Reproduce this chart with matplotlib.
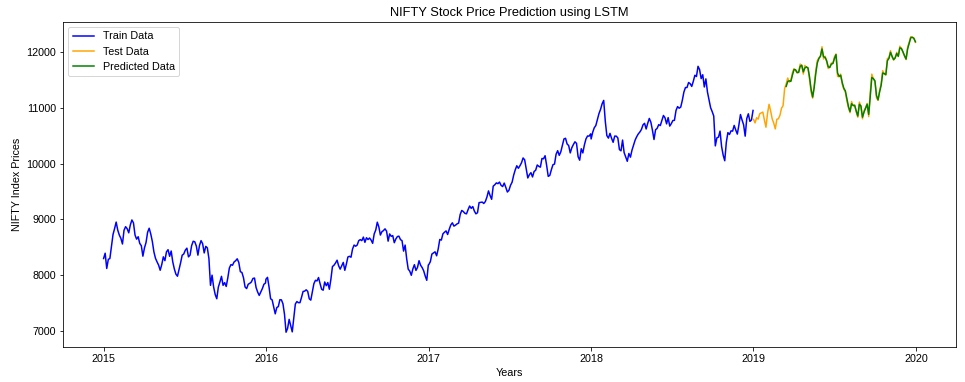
import pandas as pd
import matplotlib.pyplot as plt
import matplotlib.dates as mdates

plt.rcParams["font.family"] = ["Liberation Sans", "DejaVu Sans"]
plt.rcParams["font.size"] = 10.7

# NIFTY closes, two points per week
train_2015 = [8300, 8395, 8122, 8285, 8300, 8513, 8730, 8836, 8952, 8809,
              8720, 8661, 8560, 8805, 8870, 8833, 8760, 8901,
              8990, 8938, 8720, 8647, 8690, 8570, 8530, 8342,
              8490, 8586, 8770, 8842, 8740, 8606, 8420, 8305,
              8240, 8182, 8090, 8191, 8330, 8262, 8420, 8458, 8340, 8434,
              8240, 8114, 8020, 7983, 8100, 8225, 8360, 8381,
              8450, 8485, 8330, 8361, 8530, 8609, 8600, 8522, 8360, 8533,
              8620, 8565, 8400, 8518, 8490, 8300, 7820, 8002,
              7790, 7655, 7580, 7789, 7880, 7981, 7820, 7868,
              7800, 7951, 8130, 8190, 8180, 8238, 8260, 8295, 8230, 8065,
              8050, 7955, 7790, 7762, 7840, 7856, 7880, 7943,
              7950, 7781, 7700, 7640, 7700, 7762, 7840, 7861]
train_2016 = [7930, 7963, 7790, 7580, 7560, 7437, 7310, 7422, 7440, 7563,
              7560, 7489, 7300, 6981, 7050, 7211, 7100, 6987,
              7230, 7485, 7530, 7510, 7510, 7604, 7710, 7716,
              7740, 7713, 7580, 7555, 7700, 7850, 7910, 7899, 7960, 7850,
              7750, 7733, 7880, 7814, 7870, 7750, 7930, 8156,
              8180, 8220, 8270, 8170, 8110, 8170, 8230, 8089,
              8200, 8328, 8340, 8323, 8470, 8541, 8520, 8541, 8620, 8638,
              8620, 8683, 8590, 8672, 8640, 8667, 8630, 8572,
              8740, 8809, 8950, 8867, 8720, 8780, 8800, 8831, 8790, 8611,
              8740, 8697, 8710, 8583, 8650, 8693, 8700, 8638,
              8620, 8433, 8540, 8297, 8110, 8074, 8000, 8114,
              8190, 8087, 8140, 8261, 8180, 8139, 8080, 7986, 7910, 8186]
train_2017 = [8190, 8243, 8380, 8400, 8420, 8349, 8470, 8641,
              8630, 8741, 8770, 8794, 8730, 8821, 8900, 8939,
              8880, 8897, 8920, 8934, 9090, 9160, 9140, 9108, 9100, 9174,
              9240, 9198, 9230, 9150, 9100, 9119, 9300, 9304,
              9310, 9285, 9320, 9400, 9510, 9428, 9360, 9595,
              9620, 9653, 9640, 9668, 9610, 9588, 9650, 9574, 9490, 9521,
              9610, 9665, 9790, 9886, 9960, 9915, 9960, 10014,
              10100, 10066, 9900, 9742, 9800, 9837, 9760, 9857,
              9880, 9974, 9950, 9935, 10090, 10085, 10140, 9964, 9770, 9788,
              9890, 9979, 9990, 10167, 10230, 10146, 10210, 10323,
              10440, 10452, 10350, 10322, 10190, 10283, 10340, 10389,
              10360, 10121, 10060, 10265, 10190, 10333, 10440, 10493, 10490, 10531]
train_2018 = [10440, 10559, 10640, 10681, 10790, 10895, 10970, 11070,
              11130, 10761, 10500, 10455, 10540, 10452, 10380, 10491,
              10490, 10458, 10250, 10227, 10420, 10195, 10120, 10040, 10180, 10114,
              10240, 10332, 10420, 10481, 10530, 10564, 10610, 10692,
              10720, 10618, 10720, 10807, 10740, 10597, 10430, 10605,
              10630, 10696, 10680, 10768, 10860, 10818, 10710, 10822, 10670, 10714,
              10770, 10773, 10950, 11019, 10990, 11010, 11130, 11278,
              11360, 11361, 11450, 11429, 11380, 11471, 11580, 11557,
              11740, 11681, 11520, 11589, 11370, 11515, 11280, 11143, 11000, 10930,
              10850, 10316, 10460, 10472, 10580, 10303, 10150, 10050,
              10380, 10553, 10520, 10585, 10580, 10682, 10600, 10527, 10690, 10877,
              10780, 10693, 10490, 10805, 10890, 10754, 10780, 10950]
test_2019 = [10790, 10727, 10820, 10795, 10890, 10907, 10920, 10780,
             10650, 10894, 11060, 10944, 10800, 10724, 10620, 10792,
             10800, 10864, 10990, 11035, 11340, 11427, 11530, 11456, 11490, 11624,
             11700, 11666, 11620, 11643, 11780, 11752, 11600, 11755,
             11720, 11712, 11500, 11279, 11170, 11407, 11660, 11844, 11890, 11923,
             12090, 11871, 11920, 11823, 11700, 11724, 11800, 11789,
             11910, 11960, 11560, 11552, 11600, 11419, 11330, 11284,
             11120, 10997, 10910, 11110, 11030, 11048, 10920, 10829, 11100, 11023,
             10800, 10947, 11000, 11076, 10840, 11274, 11600, 11512,
             11470, 11175, 11130, 11305, 11430, 11662, 11600, 11584,
             11880, 11891, 12020, 11908, 11850, 11895, 11990, 11914, 12100, 12056,
             11990, 11921, 11860, 12087, 12170, 12272, 12260, 12246,
             12168]
# LSTM output, starts mid-March 2019 after the look-back window
pred_2019 = [11380, 11470, 11480, 11470, 11580,
             11680, 11680, 11630, 11630, 11740, 11760, 11640, 11710,
             11730, 11710, 11550, 11330, 11190, 11360, 11610, 11800, 11880, 11920,
             12050, 11910, 11900, 11840, 11730, 11720, 11780, 11790,
             11880, 11950, 11620, 11560, 11580, 11450, 11350, 11300,
             11160, 11020, 10930, 11070, 11040, 11040, 10940, 10850, 11060, 11030,
             10830, 10920, 10990, 11060, 10880, 11200, 11540, 11520,
             11480, 11220, 11140, 11280, 11400, 11620, 11610, 11590,
             11840, 11880, 11990, 11920, 11860, 11890, 11970, 11920, 12070, 12060,
             12000, 11930, 11870, 12050, 12150, 12250, 12260, 12240,
             12180]


def spread(year, values):
    return pd.date_range(f"{year}-01-01", f"{year}-12-31", periods=len(values))


train_dates = []
train_vals = []
for year, vals in [(2015, train_2015), (2016, train_2016), (2017, train_2017), (2018, train_2018)]:
    train_dates.extend(spread(year, vals))
    train_vals.extend(vals)

test_dates = spread(2019, test_2019)
pred_dates = test_dates[-len(pred_2019):]

fig = plt.figure(figsize=(965 / 72, 382 / 72), dpi=72)
ax = fig.add_axes([63 / 965, 35 / 382, (956 - 63) / 965, (347 - 21.8) / 382])

ax.plot(train_dates, train_vals, color="blue", label="Train Data")
ax.plot(test_dates, test_2019, color="orange", label="Test Data")
ax.plot(pred_dates, pred_2019, color="green", label="Predicted Data")

ax.xaxis.set_major_locator(mdates.YearLocator())
ax.xaxis.set_major_formatter(mdates.DateFormatter("%Y"))
ax.set_title("NIFTY Stock Price Prediction using LSTM")
ax.set_xlabel("Years")
ax.set_ylabel("NIFTY Index Prices")
ax.legend(loc="upper left")

fig.savefig("out.png", dpi=72)
